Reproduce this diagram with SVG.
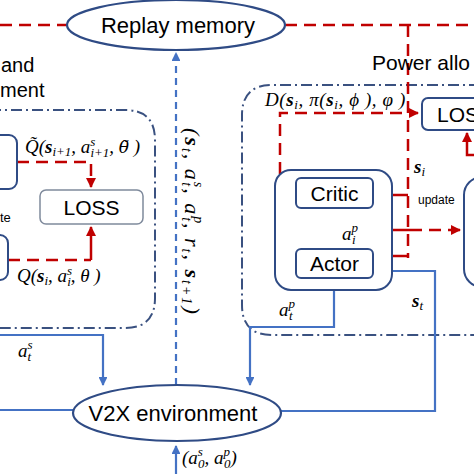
<svg xmlns="http://www.w3.org/2000/svg" width="474" height="474" viewBox="0 0 474 474">
<defs>
<marker id="ar" viewBox="0 0 10 10" refX="9" refY="5" markerWidth="4" markerHeight="4" orient="auto"><path d="M0,0 L10,5 L0,10 z" fill="#C00000"/></marker>
<marker id="ab" viewBox="0 0 10 10" refX="9" refY="5" markerWidth="4" markerHeight="4" orient="auto"><path d="M0,0 L10,5 L0,10 z" fill="#4472C4"/></marker>
<style>
.sans{font-family:"Liberation Sans",Arial,sans-serif;fill:#000}
.m{font-family:"Liberation Serif","Times New Roman",serif;font-style:italic;fill:#000}
.dj{font-family:"DejaVu Serif",serif}
.b{font-weight:bold}
.node{fill:#fff;stroke:#2F4B85;stroke-width:2}
.ell{fill:#fff;stroke:#2F4B85;stroke-width:2.2}
.dd{fill:none;stroke:#3A5180;stroke-width:2;stroke-dasharray:11 4 2 4}
.red{fill:none;stroke:#C00000;stroke-width:2.5;stroke-dasharray:12 7}
.reds{fill:none;stroke:#C00000;stroke-width:2.5}
.blue{fill:none;stroke:#4472C4;stroke-width:2.2}
.bdash{fill:none;stroke:#4472C4;stroke-width:2.2;stroke-dasharray:7 5}
</style>
</defs>
<rect width="474" height="474" fill="#fff"/>

<!-- group frames -->
<path class="dd" d="M-10,110 H125 Q155,110 155,140 V298 Q155,328 125,328 H-10"/>
<path class="dd" d="M480,85 H272 Q242,85 242,115 V305 Q242,335 272,335 H480"/>

<!-- connectors -->
<g id="connectors">
<line class="red" x1="0" y1="25" x2="67" y2="25"/>
<line class="red" x1="285" y1="25" x2="474" y2="25"/>
<line class="red" x1="408" y1="25" x2="408" y2="258"/>
<path class="reds" d="M408,195 H376" marker-end="url(#ar)"/>
<path class="reds" d="M408,256 H376" marker-end="url(#ar)"/>
<path class="reds" d="M392,230 H410"/>
<path class="red" d="M410,230 H460" marker-end="url(#ar)"/>
<path class="red" d="M280,193 V113 H418" marker-end="url(#ar)"/>
<path class="reds" d="M280,193 H296"/>
<path class="reds" d="M474,155 H467 V133" marker-end="url(#ar)"/>
<path class="reds" d="M334,249 V211" marker-end="url(#ar)"/>
<path class="red" d="M17,162 H91 V187" marker-end="url(#ar)"/>
<path class="red" d="M8,260 H91"/>
<path class="reds" d="M91,260 V227" marker-end="url(#ar)"/>
<path class="bdash" d="M176,385 V53" marker-end="url(#ab)"/>
<path class="blue" d="M334,278 V327 H250 V385" marker-end="url(#ab)"/>
<path class="blue" d="M281,411 H435 V271 H376" marker-end="url(#ab)"/>
<path class="blue" d="M0,335 H103 V385" marker-end="url(#ab)"/>
<path class="blue" d="M0,410 H73"/>
<path class="blue" d="M176,474 V446" marker-end="url(#ab)"/>
</g>

<g id="replay-memory">
<ellipse class="ell" cx="176" cy="25" rx="109" ry="25"/>
<text class="sans" x="178" y="33" font-size="22" text-anchor="middle">Replay memory</text>
</g>
<g id="v2x-environment">
<ellipse class="ell" cx="177" cy="413" rx="104" ry="28"/>
<text class="sans" x="173" y="421" font-size="22" text-anchor="middle">V2X environment</text>
</g>

<g id="left-target">
<rect class="node" x="-20" y="135" width="37" height="54" rx="8"/>
</g>
<g id="left-eval">
<rect class="node" x="-20" y="235" width="28" height="45" rx="8"/>
</g>
<g id="left-loss">
<rect x="40" y="190" width="103" height="34" rx="6" fill="#fff" stroke="#7F8A9C" stroke-width="1.5"/>
<text class="sans" x="91.5" y="215" font-size="21" text-anchor="middle">LOSS</text>
</g>

<g id="actor-critic">
<rect class="node" x="275" y="170" width="117" height="120" rx="16"/>
</g>
<g id="critic">
<rect class="node" x="296" y="178" width="77" height="30" rx="5"/>
<text class="sans" x="334.5" y="201" font-size="21" text-anchor="middle">Critic</text>
</g>
<g id="actor">
<rect class="node" x="296" y="249" width="77" height="29" rx="5"/>
<text class="sans" x="334.5" y="271" font-size="21" text-anchor="middle">Actor</text>
</g>
<g id="right-loss">
<rect class="node" x="422" y="98" width="70" height="32" rx="6"/>
<text class="sans" x="437" y="122" font-size="21">LOS</text>
</g>
<g id="right-box">
<rect class="node" x="464" y="177" width="40" height="110" rx="18"/>
</g>

<!-- section labels -->
<text class="sans" x="1" y="72" font-size="20">and</text>
<text class="sans" x="0" y="97" font-size="20">ment</text>
<text class="sans" x="372" y="70" font-size="21">Power allo</text>
<text class="sans" x="0" y="222" font-size="13">te</text>
<text class="sans" x="418" y="204" font-size="12">update</text>

<!-- math labels -->
<text class="m" x="25" y="153" font-size="19">Q&#x303;(<tspan class="b">s</tspan><tspan font-size="13" dy="3">i+1</tspan><tspan dy="-3">, a</tspan><tspan font-size="13" dy="-7">s</tspan><tspan font-size="13" dx="-5" dy="11">i+1</tspan><tspan dy="-4">, </tspan><tspan class="dj" font-size="17">θ&#x303;</tspan><tspan> )</tspan></text>
<text class="m" x="17" y="282" font-size="19">Q(<tspan class="b">s</tspan><tspan font-size="13" dy="3">i</tspan><tspan dy="-3">, a</tspan><tspan font-size="13" dy="-7">s</tspan><tspan font-size="13" dx="-5" dy="11">i</tspan><tspan dy="-4">, θ )</tspan></text>
<text class="m" x="265" y="106" font-size="19" letter-spacing="0.6">D(<tspan class="b">s</tspan><tspan font-size="13" dy="3">i</tspan><tspan dy="-3">, π(</tspan><tspan class="b">s</tspan><tspan font-size="13" dy="3">i</tspan><tspan dy="-3">, ϕ ), φ )</tspan></text>
<text class="m b" x="414" y="173" font-size="19">s<tspan font-size="13" font-weight="normal" dy="3">i</tspan></text>
<text class="m" x="342" y="240" font-size="19">a<tspan font-size="13" dy="-8">p</tspan><tspan font-size="13" dx="-6" dy="12">i</tspan></text>
<text class="m" x="279" y="316" font-size="19">a<tspan font-size="13" dy="-8">p</tspan><tspan font-size="13" dx="-6" dy="12">t</tspan></text>
<text class="m b" x="412" y="307" font-size="19">s<tspan font-size="13" font-weight="normal" dy="3">t</tspan></text>
<text class="m" x="18" y="357" font-size="19">a<tspan font-size="13" dy="-8">s</tspan><tspan font-size="13" dx="-5" dy="12">t</tspan></text>
<text class="m" x="182" y="464" font-size="19">(a<tspan font-size="13" dy="-8">s</tspan><tspan font-size="13" dx="-5" dy="12">0</tspan><tspan dy="-4">, a</tspan><tspan font-size="13" dy="-8">p</tspan><tspan font-size="13" dx="-6" dy="12">0</tspan><tspan dy="-4">)</tspan></text>
<text class="m" transform="translate(185,128) rotate(90)" font-size="22" letter-spacing="2">(<tspan class="b">s</tspan><tspan font-size="14" dy="3">t</tspan><tspan dy="-3">, a</tspan><tspan font-size="14" dy="-9">s</tspan><tspan font-size="14" dx="-7" dy="12">t</tspan><tspan dy="-3">, a</tspan><tspan font-size="14" dy="-9">p</tspan><tspan font-size="14" dx="-8" dy="12">t</tspan><tspan dy="-3">, r</tspan><tspan font-size="14" dy="3">t</tspan><tspan dy="-3">, </tspan><tspan class="b">s</tspan><tspan font-size="14" dy="3">t+1</tspan><tspan dy="-3">)</tspan></text>
</svg>
